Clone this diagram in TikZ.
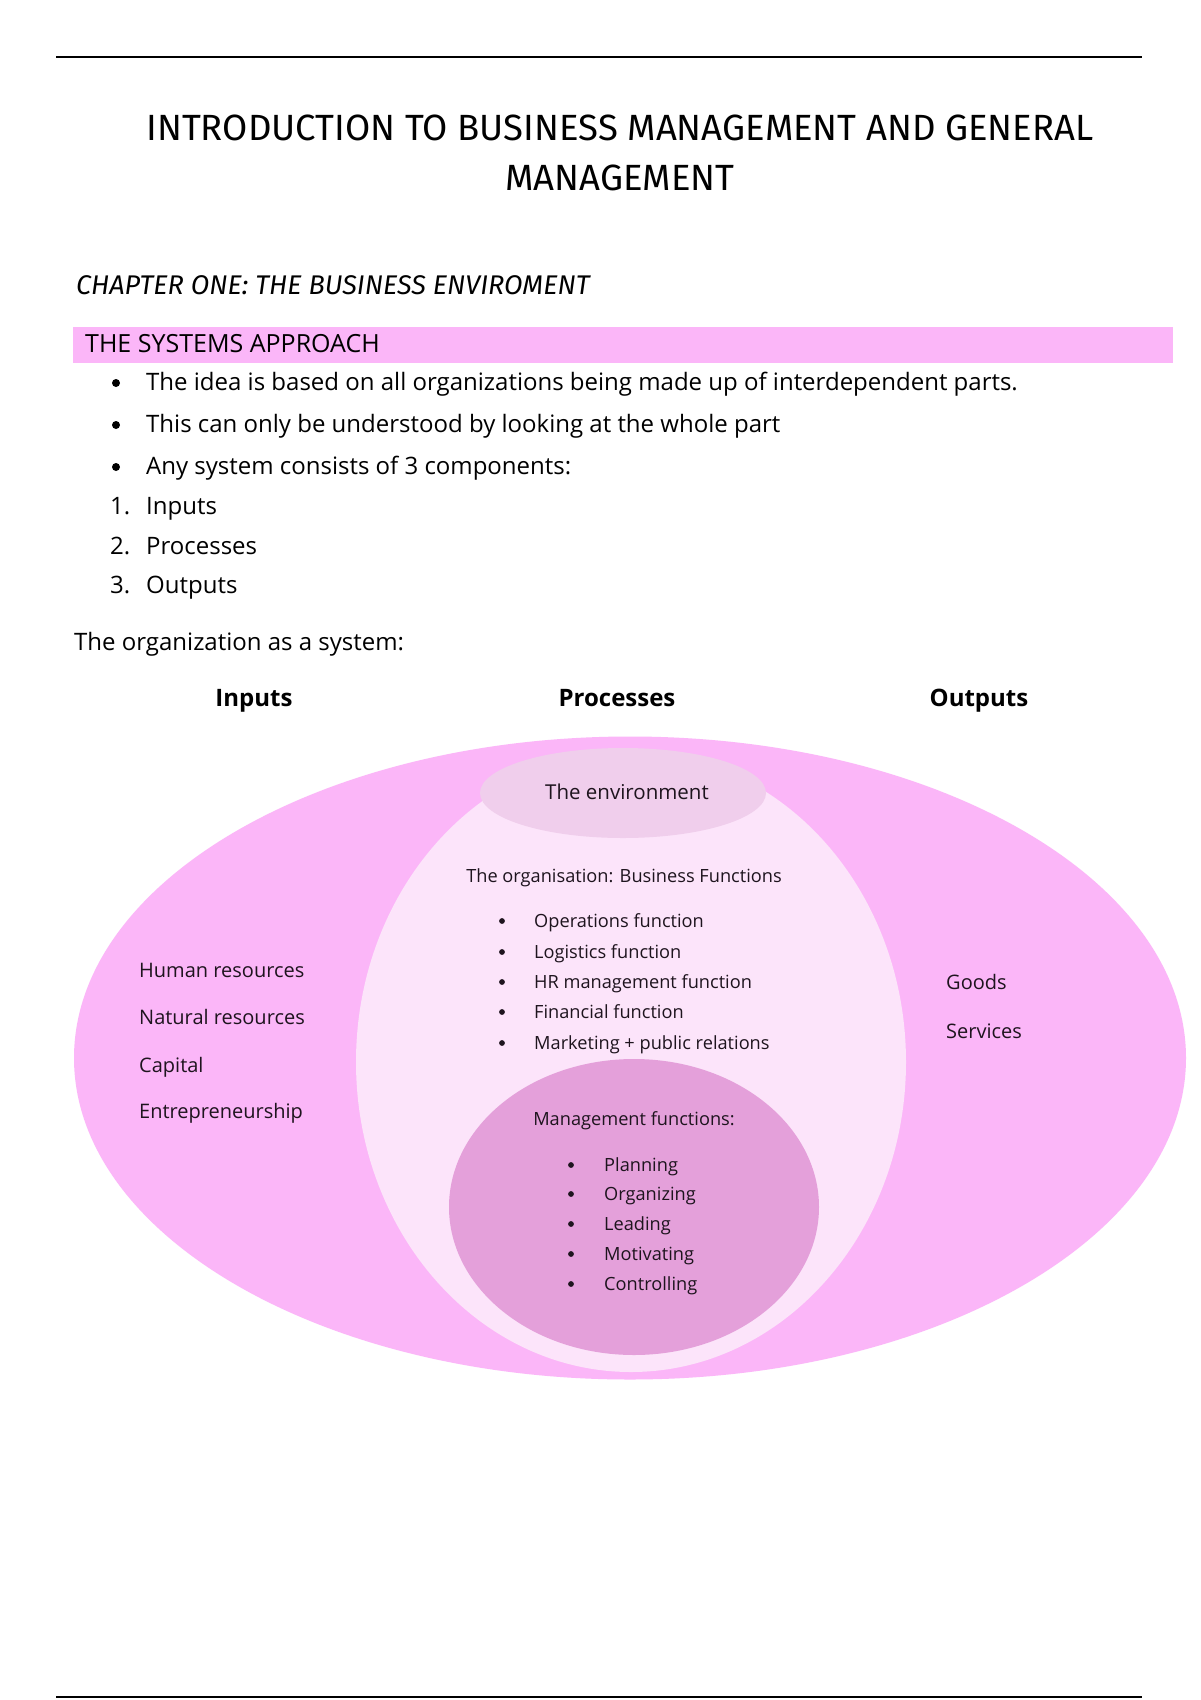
\documentclass[tikz,border=0pt]{standalone}
\usepackage{fontspec}
\setmainfont{Open Sans}
\newfontfamily\titlefont{Fira Sans}
\usetikzlibrary{shapes.geometric}
\definecolor{pinkmain}{RGB}{251,182,248}
\definecolor{pinklight}{RGB}{252,228,250}
\definecolor{pinkenv}{RGB}{240,206,236}
\definecolor{pinkmgmt}{RGB}{228,160,218}
\definecolor{txt}{RGB}{30,20,30}
\tikzset{
  blob/.style={ellipse, inner sep=0pt, draw=none},
  body/.style={anchor=mid west, inner sep=0pt, font=\fontsize{24}{27}\selectfont, text=black},
  dtext/.style={anchor=mid west, inner sep=0pt, font=\fontsize{20}{22}\selectfont, text=txt},
  itext/.style={anchor=mid west, inner sep=0pt, font=\fontsize{18.2}{20}\selectfont, text=txt},
  bigdot/.style={circle, fill=black, draw=none, inner sep=0pt, minimum size=8pt},
  smalldot/.style={circle, fill=txt, draw=none, inner sep=0pt, minimum size=5.8pt},
  colhead/.style={anchor=mid, inner sep=0pt, font=\fontsize{24}{26}\selectfont\bfseries, text=black},
  rulestyle/.style={line width=1.6pt, black}
}
\begin{document}
\begin{tikzpicture}[x=1pt,y=-1pt]
\useasboundingbox[fill=white] (0,0) rectangle (1200,1700);
% rules
\coordinate (tl) at (56,57); \coordinate (tr) at (1142,57);
\coordinate (bl) at (56,1697); \coordinate (br) at (1142,1697);
\draw[rulestyle] (tl) -- (tr);
\draw[rulestyle] (bl) -- (br);
% title
\node[inner sep=0pt, anchor=mid, font=\titlefont\fontsize{36.5}{40}\selectfont] (t1) at (620,138) {INTRODUCTION TO BUSINESS MANAGEMENT AND GENERAL};
\node[inner sep=0pt, anchor=mid, font=\titlefont\fontsize{36.5}{40}\selectfont] (t2) at (620,188) {MANAGEMENT};
\node[inner sep=0pt, anchor=mid west, font=\titlefont\itshape\fontsize{27}{28}\selectfont] (chap) at (76,292) {CHAPTER ONE: THE BUSINESS ENVIROMENT};
% pink bar
\fill[pinkmain] (73,327) rectangle (1173,363);
\node[body, font=\fontsize{25}{27}\selectfont] (sa) at (85,350) {THE SYSTEMS APPROACH};
% bullets
\node[bigdot] (b1d) at (116,383) {};
\node[body] (b1) at (146,388) {The idea is based on all organizations being made up of interdependent parts.};
\node[bigdot] (b2d) at (116,425) {};
\node[body] (b2) at (146,430) {This can only be understood by looking at the whole part};
\node[bigdot] (b3d) at (116,467) {};
\node[body] (b3) at (146,472) {Any system consists of 3 components:};
\node[body] (n1d) at (110,512) {1.};
\node[body] (n1) at (146,512) {Inputs};
\node[body] (n2d) at (110,552) {2.};
\node[body] (n2) at (146,552) {Processes};
\node[body] (n3d) at (110,591) {3.};
\node[body] (n3) at (146,591) {Outputs};
\node[body] (orgsys) at (74,648) {The organization as a system:};
% column heads
\node[colhead] (hin) at (254,704) {Inputs};
\node[colhead] (hpr) at (617,704) {Processes};
\node[colhead] (hout) at (979,704) {Outputs};
% ellipses
\node[blob, fill=pinkmain, minimum width=1112pt, minimum height=643pt] (outer) at (630,1058) {};
\node[blob, fill=pinklight, minimum width=550pt, minimum height=620pt] (org) at (631,1062) {};
\node[blob, fill=pinkenv, minimum width=286pt, minimum height=90pt] (env) at (623,793) {};
\node[blob, fill=pinkmgmt, minimum width=370pt, minimum height=296pt] (mgmt) at (634,1207) {};
% environment text
\node[inner sep=0pt, anchor=mid, font=\fontsize{20.5}{24}\selectfont, text=txt] (envt) at (627,797) {The environment};
% inputs
\node[dtext] (i1) at (139,975) {Human resources};
\node[dtext] (i2) at (139,1022) {Natural resources};
\node[dtext] (i3) at (139,1070) {Capital};
\node[dtext] (i4) at (139,1116) {Entrepreneurship};
% outputs
\node[dtext] (o1) at (946,987) {Goods};
\node[dtext] (o2) at (946,1036) {Services};
% business functions
\node[itext, anchor=mid] (bf) at (624,880) {The organisation: Business Functions};
\node[smalldot] (f1d) at (502,921) {};
\node[itext] (f1) at (534,925) {Operations function};
\node[smalldot] (f2d) at (502,952) {};
\node[itext] (f2) at (534,956) {Logistics function};
\node[smalldot] (f3d) at (502,982) {};
\node[itext] (f3) at (534,986) {HR management function};
\node[smalldot] (f4d) at (502,1012) {};
\node[itext] (f4) at (534,1016) {Financial function};
\node[smalldot] (f5d) at (502,1043) {};
\node[itext] (f5) at (534,1047) {Marketing + public relations};
% management functions
\node[itext, anchor=mid] (mf) at (634,1123) {Management functions:};
\node[smalldot] (m1d) at (571,1165) {};
\node[itext] (m1) at (604,1169) {Planning};
\node[smalldot] (m2d) at (571,1194) {};
\node[itext] (m2) at (604,1198) {Organizing};
\node[smalldot] (m3d) at (571,1224) {};
\node[itext] (m3) at (604,1228) {Leading};
\node[smalldot] (m4d) at (571,1254) {};
\node[itext] (m4) at (604,1258) {Motivating};
\node[smalldot] (m5d) at (571,1284) {};
\node[itext] (m5) at (604,1288) {Controlling};
\end{tikzpicture}
\end{document}
